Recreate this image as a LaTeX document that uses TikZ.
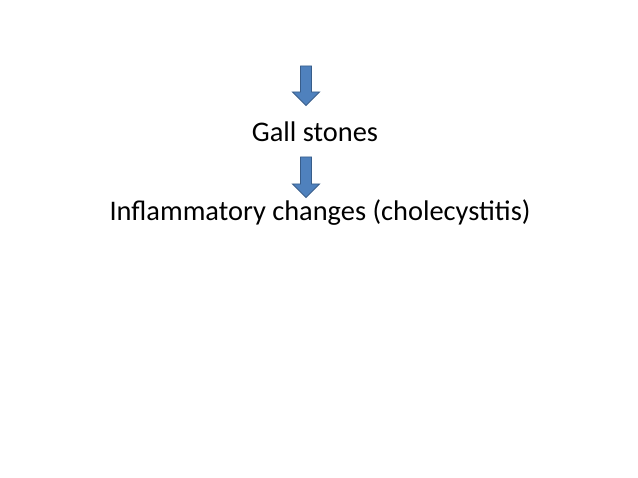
\documentclass[tikz,border=0pt]{standalone}
\usepackage{fontspec}
\setmainfont{Carlito}
\definecolor{arrowfill}{HTML}{4F81BD}
\definecolor{arrowline}{HTML}{385D8A}
\begin{document}
\begin{tikzpicture}[x=1pt,y=1pt,
  downarrow/.style={fill=arrowfill,draw=arrowline,line width=0.9pt,line join=miter},
  label/.style={font=\fontsize{28.4}{32}\selectfont,inner sep=0pt,anchor=base,text=black}]
\useasboundingbox[fill=white] (0,0) rectangle (638,-478);
% arrow 1
\draw[downarrow] (300.5,-66) -- (311.5,-66) -- (311.5,-92) -- (319.5,-92) -- (306,-105.5) -- (292.5,-92) -- (300.5,-92) -- cycle;
\node[label] (gall) at (315,-142) {Gall stones};
% arrow 2
\draw[downarrow] (300.5,-157) -- (311.5,-157) -- (311.5,-184) -- (319.5,-184) -- (306,-197.5) -- (292.5,-184) -- (300.5,-184) -- cycle;
\node[label] (infl) at (320,-221) {Inflammatory changes (cholecystitis)};
\end{tikzpicture}
\end{document}
